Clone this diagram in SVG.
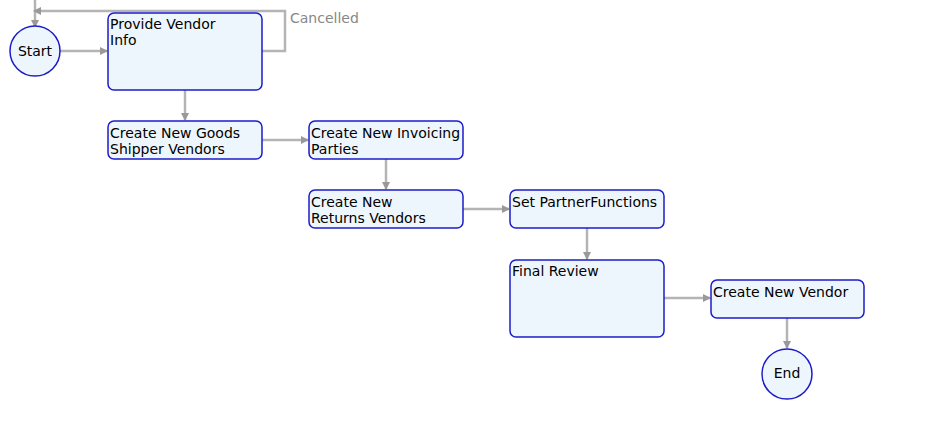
<svg xmlns="http://www.w3.org/2000/svg" width="927" height="425" viewBox="0 0 927 425">
<style>
.n{fill:#eef6fd;stroke:#1c1cc8;stroke-width:1.5}
.t{font-family:"DejaVu Sans",Verdana,sans-serif;font-size:14px;fill:#000}
.c{fill:none;stroke:#b4b4b4;stroke-width:2.5}
.l{font-family:"DejaVu Sans",Verdana,sans-serif;font-size:14px;fill:#888}
</style>
<defs><marker id="a" markerWidth="8" markerHeight="8" refX="7" refY="4" orient="auto" markerUnits="userSpaceOnUse"><path d="M0,0L8,4L0,8z" fill="#999"/></marker></defs>
<rect width="927" height="425" fill="#fff"/>
<g id="connectors">
<path class="c" d="M35,0V27" marker-end="url(#a)"/>
<path class="c" d="M262,51H285V11H34" marker-end="url(#a)"/>
<text class="l" x="290" y="23">Cancelled</text>
<path class="c" d="M60,51H107" marker-end="url(#a)"/>
<path class="c" d="M185,90V120" marker-end="url(#a)"/>
<path class="c" d="M262,140H308" marker-end="url(#a)"/>
<path class="c" d="M386,159V189" marker-end="url(#a)"/>
<path class="c" d="M463,209H509" marker-end="url(#a)"/>
<path class="c" d="M587,228V259" marker-end="url(#a)"/>
<path class="c" d="M664,298H710" marker-end="url(#a)"/>
<path class="c" d="M787,318V348" marker-end="url(#a)"/>
</g>
<g id="start"><circle class="n" cx="35" cy="51" r="25"/><text class="t" x="35" y="56" text-anchor="middle">Start</text></g>
<g id="provide"><rect class="n" x="108" y="13" width="154" height="77" rx="6"/><text class="t" x="110" y="29">Provide Vendor</text><text class="t" x="110" y="45">Info</text></g>
<g id="goods"><rect class="n" x="108" y="121" width="154" height="38" rx="6"/><text class="t" x="110" y="138">Create New Goods</text><text class="t" x="110" y="154">Shipper Vendors</text></g>
<g id="invoicing"><rect class="n" x="309" y="121" width="154" height="38" rx="6"/><text class="t" x="311" y="138">Create New Invoicing</text><text class="t" x="311" y="154">Parties</text></g>
<g id="returns"><rect class="n" x="309" y="190" width="154" height="38" rx="6"/><text class="t" x="311" y="207">Create New</text><text class="t" x="311" y="223">Returns Vendors</text></g>
<g id="partner"><rect class="n" x="510" y="190" width="154" height="38" rx="6"/><text class="t" x="512" y="207">Set PartnerFunctions</text></g>
<g id="review"><rect class="n" x="510" y="260" width="154" height="77" rx="6"/><text class="t" x="512" y="276">Final Review</text></g>
<g id="vendor"><rect class="n" x="711" y="280" width="153" height="38" rx="6"/><text class="t" x="713" y="297">Create New Vendor</text></g>
<g id="end"><circle class="n" cx="787" cy="374" r="25"/><text class="t" x="787" y="378" text-anchor="middle">End</text></g>
</svg>
